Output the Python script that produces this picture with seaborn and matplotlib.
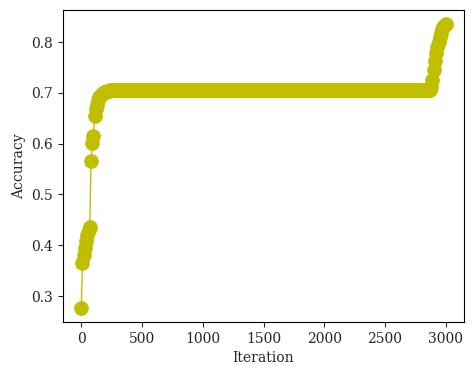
import numpy as np
import pandas as pd
import matplotlib
matplotlib.use("Agg")
import matplotlib.pyplot as plt
import seaborn as sns

iterations = list(range(0, 3001, 10))

acc_start = [
    0.277, 0.365, 0.380, 0.395, 0.408, 0.420, 0.430, 0.436, 0.565, 0.602,
    0.616, 0.654, 0.668, 0.677, 0.686, 0.691, 0.695, 0.698, 0.700, 0.701,
    0.702, 0.703, 0.704, 0.704, 0.705, 0.705, 0.705, 0.705, 0.705, 0.705,
]
acc_plateau = [
    0.705, 0.705, 0.705, 0.705, 0.705, 0.705, 0.705, 0.705, 0.705, 0.705,
    0.705, 0.705, 0.705, 0.705, 0.705, 0.705, 0.705, 0.705, 0.705, 0.705,
    0.705, 0.705, 0.705, 0.705, 0.705, 0.705, 0.705, 0.705, 0.705, 0.705,
    0.705, 0.705, 0.705, 0.705, 0.705, 0.705, 0.705, 0.705, 0.705, 0.705,
    0.705, 0.705, 0.705, 0.705, 0.705, 0.705, 0.705, 0.705, 0.705, 0.705,
    0.705, 0.705, 0.705, 0.705, 0.705, 0.705, 0.705, 0.705, 0.705, 0.705,
    0.705, 0.705, 0.705, 0.705, 0.705, 0.705, 0.705, 0.705, 0.705, 0.705,
    0.705, 0.705, 0.705, 0.705, 0.705, 0.705, 0.705, 0.705, 0.705, 0.705,
    0.705, 0.705, 0.705, 0.705, 0.705, 0.705, 0.705, 0.705, 0.705, 0.705,
    0.705, 0.705, 0.705, 0.705, 0.705, 0.705, 0.705, 0.705, 0.705, 0.705,
    0.705, 0.705, 0.705, 0.705, 0.705, 0.705, 0.705, 0.705, 0.705, 0.705,
    0.705, 0.705, 0.705, 0.705, 0.705, 0.705, 0.705, 0.705, 0.705, 0.705,
    0.705, 0.705, 0.705, 0.705, 0.705, 0.705, 0.705, 0.705, 0.705, 0.705,
    0.705, 0.705, 0.705, 0.705, 0.705, 0.705, 0.705, 0.705, 0.705, 0.705,
    0.705, 0.705, 0.705, 0.705, 0.705, 0.705, 0.705, 0.705, 0.705, 0.705,
    0.705, 0.705, 0.705, 0.705, 0.705, 0.705, 0.705, 0.705, 0.705, 0.705,
    0.705, 0.705, 0.705, 0.705, 0.705, 0.705, 0.705, 0.705, 0.705, 0.705,
    0.705, 0.705, 0.705, 0.705, 0.705, 0.705, 0.705, 0.705, 0.705, 0.705,
    0.705, 0.705, 0.705, 0.705, 0.705, 0.705, 0.705, 0.705, 0.705, 0.705,
    0.705, 0.705, 0.705, 0.705, 0.705, 0.705, 0.705, 0.705, 0.705, 0.705,
    0.705, 0.705, 0.705, 0.705, 0.705, 0.705, 0.705, 0.705, 0.705, 0.705,
    0.705, 0.705, 0.705, 0.705, 0.705, 0.705, 0.705, 0.705, 0.705, 0.705,
    0.705, 0.705, 0.705, 0.705, 0.705, 0.705, 0.705, 0.705, 0.705, 0.705,
    0.705, 0.705, 0.705, 0.705, 0.705, 0.705, 0.705, 0.705, 0.705, 0.705,
    0.705, 0.705, 0.705, 0.705, 0.705, 0.705, 0.705, 0.705, 0.705, 0.705,
    0.705, 0.705, 0.705, 0.705, 0.705, 0.705, 0.705, 0.705,
]
acc_end = [
    0.712, 0.725, 0.745, 0.763, 0.778, 0.790, 0.800, 0.810, 0.818, 0.825,
    0.830, 0.833, 0.835,
]
accuracy = acc_start + acc_plateau + acc_end

df = pd.DataFrame({"Iteration": iterations, "Accuracy": accuracy})

sns.set_style("ticks")
plt.rcParams["font.family"] = ["DejaVu Serif"]
plt.rcParams["font.size"] = 10

fig, ax = plt.subplots(figsize=(4.74, 3.76), dpi=100)
fig.subplots_adjust(left=0.133, right=0.979, top=0.973, bottom=0.144)

sns.lineplot(data=df, x="Iteration", y="Accuracy", ax=ax, color="#bfbf00",
             linewidth=1, marker="o", markersize=10,
             markeredgecolor="#bfbf00", markeredgewidth=0.5)

ax.set_xticks([0, 500, 1000, 1500, 2000, 2500, 3000])
ax.set_yticks([0.3, 0.4, 0.5, 0.6, 0.7, 0.8])
ax.tick_params(labelsize=10)
ax.set_xlabel("Iteration", fontsize=10)
ax.set_ylabel("Accuracy", fontsize=10)
for s in ax.spines.values():
    s.set_visible(True)
    s.set_color("black")

fig.savefig("out.png", dpi=100)
